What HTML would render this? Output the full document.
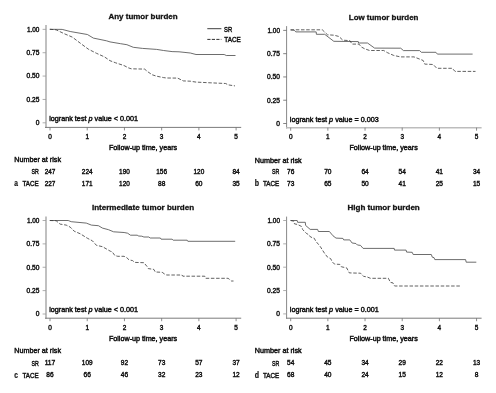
<!DOCTYPE html>
<html lang="en">
<head>
<meta charset="utf-8">
<title>Kaplan-Meier survival by tumor burden</title>
<style>
html,body{margin:0;padding:0;background:#fff;}
body{width:496px;height:393px;overflow:hidden;}
svg{display:block;font-family:'Liberation Sans', Arial, Helvetica, sans-serif;}
</style>
</head>
<body>
<svg width="496" height="393" viewBox="0 0 496 393" font-family="'Liberation Sans', Arial, Helvetica, sans-serif">
<rect width="496" height="393" fill="#fff"/>
<line x1="46.00" y1="25.10" x2="46.00" y2="127.88" stroke="#bdbdbd" stroke-width="1.9"/>
<line x1="45.05" y1="127.40" x2="241.20" y2="127.40" stroke="#747474" stroke-width="0.95"/>
<line x1="42.60" y1="29.35" x2="46.00" y2="29.35" stroke="#999" stroke-width="0.8"/>
<text x="26.90" y="31.75" font-size="7.4" textLength="12.50" lengthAdjust="spacingAndGlyphs" fill="#111" stroke="#111" stroke-width="0.45">1.00</text>
<line x1="42.60" y1="52.71" x2="46.00" y2="52.71" stroke="#999" stroke-width="0.8"/>
<text x="26.50" y="55.11" font-size="7.4" textLength="12.90" lengthAdjust="spacingAndGlyphs" fill="#111" stroke="#111" stroke-width="0.45">0.75</text>
<line x1="42.60" y1="76.07" x2="46.00" y2="76.07" stroke="#999" stroke-width="0.8"/>
<text x="26.50" y="78.47" font-size="7.4" textLength="12.90" lengthAdjust="spacingAndGlyphs" fill="#111" stroke="#111" stroke-width="0.45">0.50</text>
<line x1="42.60" y1="99.44" x2="46.00" y2="99.44" stroke="#999" stroke-width="0.8"/>
<text x="26.50" y="101.84" font-size="7.4" textLength="12.90" lengthAdjust="spacingAndGlyphs" fill="#111" stroke="#111" stroke-width="0.45">0.25</text>
<line x1="42.60" y1="122.80" x2="46.00" y2="122.80" stroke="#999" stroke-width="0.8"/>
<text x="35.70" y="125.20" font-size="7.4" textLength="3.70" lengthAdjust="spacingAndGlyphs" fill="#111" stroke="#111" stroke-width="0.45">0</text>
<line x1="50.00" y1="127.40" x2="50.00" y2="130.40" stroke="#707070" stroke-width="0.8"/>
<text x="48.20" y="139.10" font-size="7.4" textLength="3.60" lengthAdjust="spacingAndGlyphs" fill="#111" stroke="#111" stroke-width="0.45">0</text>
<line x1="87.22" y1="127.40" x2="87.22" y2="130.40" stroke="#707070" stroke-width="0.8"/>
<text x="85.42" y="139.10" font-size="7.4" textLength="3.60" lengthAdjust="spacingAndGlyphs" fill="#111" stroke="#111" stroke-width="0.45">1</text>
<line x1="124.44" y1="127.40" x2="124.44" y2="130.40" stroke="#707070" stroke-width="0.8"/>
<text x="122.64" y="139.10" font-size="7.4" textLength="3.60" lengthAdjust="spacingAndGlyphs" fill="#111" stroke="#111" stroke-width="0.45">2</text>
<line x1="161.66" y1="127.40" x2="161.66" y2="130.40" stroke="#707070" stroke-width="0.8"/>
<text x="159.86" y="139.10" font-size="7.4" textLength="3.60" lengthAdjust="spacingAndGlyphs" fill="#111" stroke="#111" stroke-width="0.45">3</text>
<line x1="198.88" y1="127.40" x2="198.88" y2="130.40" stroke="#707070" stroke-width="0.8"/>
<text x="197.08" y="139.10" font-size="7.4" textLength="3.60" lengthAdjust="spacingAndGlyphs" fill="#111" stroke="#111" stroke-width="0.45">4</text>
<line x1="236.10" y1="127.40" x2="236.10" y2="130.40" stroke="#707070" stroke-width="0.8"/>
<text x="234.30" y="139.10" font-size="7.4" textLength="3.60" lengthAdjust="spacingAndGlyphs" fill="#111" stroke="#111" stroke-width="0.45">5</text>
<text x="108.90" y="149.60" font-size="7.4" textLength="68.30" lengthAdjust="spacingAndGlyphs" fill="#111" stroke="#111" stroke-width="0.45">Follow-up time, years</text>
<text x="108.45" y="18.90" font-size="7.9" textLength="69.20" lengthAdjust="spacingAndGlyphs" fill="#111" stroke="#111" stroke-width="0.3" font-weight="bold">Any tumor burden</text>
<text x="49.20" y="121.00" font-size="7.4" textLength="88.9" lengthAdjust="spacingAndGlyphs" fill="#111" stroke="#111" stroke-width="0.45">logrank test <tspan font-style="italic">p</tspan> value &lt; 0.001</text>
<text x="14.20" y="161.90" font-size="7.4" textLength="46.80" lengthAdjust="spacingAndGlyphs" fill="#111" stroke="#111" stroke-width="0.45">Number at risk</text>
<text x="31.40" y="174.00" font-size="7.4" textLength="7.30" lengthAdjust="spacingAndGlyphs" fill="#111" stroke="#111" stroke-width="0.45">SR</text>
<text x="22.40" y="185.70" font-size="7.4" textLength="16.30" lengthAdjust="spacingAndGlyphs" fill="#111" stroke="#111" stroke-width="0.45">TACE</text>
<text x="14.20" y="185.90" font-size="8.3" textLength="3.70" lengthAdjust="spacingAndGlyphs" fill="#111" stroke="#111" stroke-width="0.2" font-weight="bold">a</text>
<text x="44.65" y="174.00" font-size="7.4" textLength="10.70" lengthAdjust="spacingAndGlyphs" fill="#111" stroke="#111" stroke-width="0.45">247</text>
<text x="44.65" y="185.70" font-size="7.4" textLength="10.70" lengthAdjust="spacingAndGlyphs" fill="#111" stroke="#111" stroke-width="0.45">227</text>
<text x="81.87" y="174.00" font-size="7.4" textLength="10.70" lengthAdjust="spacingAndGlyphs" fill="#111" stroke="#111" stroke-width="0.45">224</text>
<text x="81.87" y="185.70" font-size="7.4" textLength="10.70" lengthAdjust="spacingAndGlyphs" fill="#111" stroke="#111" stroke-width="0.45">171</text>
<text x="119.09" y="174.00" font-size="7.4" textLength="10.70" lengthAdjust="spacingAndGlyphs" fill="#111" stroke="#111" stroke-width="0.45">190</text>
<text x="119.09" y="185.70" font-size="7.4" textLength="10.70" lengthAdjust="spacingAndGlyphs" fill="#111" stroke="#111" stroke-width="0.45">120</text>
<text x="156.31" y="174.00" font-size="7.4" textLength="10.70" lengthAdjust="spacingAndGlyphs" fill="#111" stroke="#111" stroke-width="0.45">156</text>
<text x="158.01" y="185.70" font-size="7.4" textLength="7.30" lengthAdjust="spacingAndGlyphs" fill="#111" stroke="#111" stroke-width="0.45">88</text>
<text x="193.53" y="174.00" font-size="7.4" textLength="10.70" lengthAdjust="spacingAndGlyphs" fill="#111" stroke="#111" stroke-width="0.45">120</text>
<text x="195.23" y="185.70" font-size="7.4" textLength="7.30" lengthAdjust="spacingAndGlyphs" fill="#111" stroke="#111" stroke-width="0.45">60</text>
<text x="232.45" y="174.00" font-size="7.4" textLength="7.30" lengthAdjust="spacingAndGlyphs" fill="#111" stroke="#111" stroke-width="0.45">84</text>
<text x="232.45" y="185.70" font-size="7.4" textLength="7.30" lengthAdjust="spacingAndGlyphs" fill="#111" stroke="#111" stroke-width="0.45">35</text>
<path d="M49.8 29.3 L62.2 29.4 L70.2 31.5 L87.4 34.5 L93.4 38.1 L106.5 40.8 L110.0 41.9 L120.6 43.7 L126.9 44.7 L133.3 47.3 L142.5 48.4 L156.6 49.4 L163.6 50.5 L172.1 51.6 L179.0 51.8 L190.3 53.0 L196.0 54.5 L224.2 54.5 L226.3 55.5 L235.5 55.5" fill="none" stroke="#484848" stroke-width="0.8" stroke-linejoin="round"/>
<path d="M49.8 29.3 L56.1 29.8 L64.2 33.7 L72.3 37.1 L80.3 43.2 L88.4 49.2 L96.5 53.3 L104.5 56.9 L110.0 60.7 L115.6 62.8 L124.1 65.6 L128.3 67.8 L131.2 68.8 L144.6 69.1 L148.1 72.0 L152.3 74.8 L156.6 76.2 L163.6 77.6 L166.4 78.0 L177.6 78.1 L183.3 80.9 L190.3 81.2 L196.0 82.1 L210.1 82.8 L225.6 83.5 L228.4 84.9 L235.0 85.9" fill="none" stroke="#383838" stroke-width="0.8" stroke-linejoin="round" stroke-dasharray="3.5 1.7"/>
<line x1="286.60" y1="26.10" x2="286.60" y2="128.45" stroke="#888" stroke-width="1.0"/>
<line x1="286.10" y1="127.70" x2="481.60" y2="127.70" stroke="#bdbdbd" stroke-width="1.5"/>
<line x1="283.20" y1="30.40" x2="286.60" y2="30.40" stroke="#666" stroke-width="0.8"/>
<text x="267.50" y="32.80" font-size="7.4" textLength="12.50" lengthAdjust="spacingAndGlyphs" fill="#111" stroke="#111" stroke-width="0.45">1.00</text>
<line x1="283.20" y1="53.67" x2="286.60" y2="53.67" stroke="#666" stroke-width="0.8"/>
<text x="267.10" y="56.07" font-size="7.4" textLength="12.90" lengthAdjust="spacingAndGlyphs" fill="#111" stroke="#111" stroke-width="0.45">0.75</text>
<line x1="283.20" y1="76.95" x2="286.60" y2="76.95" stroke="#666" stroke-width="0.8"/>
<text x="267.10" y="79.35" font-size="7.4" textLength="12.90" lengthAdjust="spacingAndGlyphs" fill="#111" stroke="#111" stroke-width="0.45">0.50</text>
<line x1="283.20" y1="100.22" x2="286.60" y2="100.22" stroke="#666" stroke-width="0.8"/>
<text x="267.10" y="102.62" font-size="7.4" textLength="12.90" lengthAdjust="spacingAndGlyphs" fill="#111" stroke="#111" stroke-width="0.45">0.25</text>
<line x1="283.20" y1="123.50" x2="286.60" y2="123.50" stroke="#666" stroke-width="0.8"/>
<text x="276.30" y="125.90" font-size="7.4" textLength="3.70" lengthAdjust="spacingAndGlyphs" fill="#111" stroke="#111" stroke-width="0.45">0</text>
<line x1="290.70" y1="127.70" x2="290.70" y2="130.70" stroke="#707070" stroke-width="0.8"/>
<text x="288.90" y="139.30" font-size="7.4" textLength="3.60" lengthAdjust="spacingAndGlyphs" fill="#111" stroke="#111" stroke-width="0.45">0</text>
<line x1="327.87" y1="127.70" x2="327.87" y2="130.70" stroke="#707070" stroke-width="0.8"/>
<text x="326.07" y="139.30" font-size="7.4" textLength="3.60" lengthAdjust="spacingAndGlyphs" fill="#111" stroke="#111" stroke-width="0.45">1</text>
<line x1="365.04" y1="127.70" x2="365.04" y2="130.70" stroke="#707070" stroke-width="0.8"/>
<text x="363.24" y="139.30" font-size="7.4" textLength="3.60" lengthAdjust="spacingAndGlyphs" fill="#111" stroke="#111" stroke-width="0.45">2</text>
<line x1="402.21" y1="127.70" x2="402.21" y2="130.70" stroke="#707070" stroke-width="0.8"/>
<text x="400.41" y="139.30" font-size="7.4" textLength="3.60" lengthAdjust="spacingAndGlyphs" fill="#111" stroke="#111" stroke-width="0.45">3</text>
<line x1="439.38" y1="127.70" x2="439.38" y2="130.70" stroke="#707070" stroke-width="0.8"/>
<text x="437.58" y="139.30" font-size="7.4" textLength="3.60" lengthAdjust="spacingAndGlyphs" fill="#111" stroke="#111" stroke-width="0.45">4</text>
<line x1="476.55" y1="127.70" x2="476.55" y2="130.70" stroke="#707070" stroke-width="0.8"/>
<text x="474.75" y="139.30" font-size="7.4" textLength="3.60" lengthAdjust="spacingAndGlyphs" fill="#111" stroke="#111" stroke-width="0.45">5</text>
<text x="349.48" y="150.00" font-size="7.4" textLength="68.30" lengthAdjust="spacingAndGlyphs" fill="#111" stroke="#111" stroke-width="0.45">Follow-up time, years</text>
<text x="348.82" y="20.00" font-size="7.9" textLength="69.60" lengthAdjust="spacingAndGlyphs" fill="#111" stroke="#111" stroke-width="0.3" font-weight="bold">Low tumor burden</text>
<text x="289.80" y="121.60" font-size="7.4" textLength="88.9" lengthAdjust="spacingAndGlyphs" fill="#111" stroke="#111" stroke-width="0.45">logrank test <tspan font-style="italic">p</tspan> value = 0.003</text>
<text x="254.80" y="162.70" font-size="7.4" textLength="46.80" lengthAdjust="spacingAndGlyphs" fill="#111" stroke="#111" stroke-width="0.45">Number at risk</text>
<text x="272.00" y="174.00" font-size="7.4" textLength="7.30" lengthAdjust="spacingAndGlyphs" fill="#111" stroke="#111" stroke-width="0.45">SR</text>
<text x="263.00" y="185.90" font-size="7.4" textLength="16.30" lengthAdjust="spacingAndGlyphs" fill="#111" stroke="#111" stroke-width="0.45">TACE</text>
<text x="254.80" y="186.10" font-size="8.3" textLength="4.30" lengthAdjust="spacingAndGlyphs" fill="#111" stroke="#111" stroke-width="0.2" font-weight="bold">b</text>
<text x="287.05" y="174.00" font-size="7.4" textLength="7.30" lengthAdjust="spacingAndGlyphs" fill="#111" stroke="#111" stroke-width="0.45">76</text>
<text x="287.05" y="185.90" font-size="7.4" textLength="7.30" lengthAdjust="spacingAndGlyphs" fill="#111" stroke="#111" stroke-width="0.45">73</text>
<text x="324.22" y="174.00" font-size="7.4" textLength="7.30" lengthAdjust="spacingAndGlyphs" fill="#111" stroke="#111" stroke-width="0.45">70</text>
<text x="324.22" y="185.90" font-size="7.4" textLength="7.30" lengthAdjust="spacingAndGlyphs" fill="#111" stroke="#111" stroke-width="0.45">65</text>
<text x="361.39" y="174.00" font-size="7.4" textLength="7.30" lengthAdjust="spacingAndGlyphs" fill="#111" stroke="#111" stroke-width="0.45">64</text>
<text x="361.39" y="185.90" font-size="7.4" textLength="7.30" lengthAdjust="spacingAndGlyphs" fill="#111" stroke="#111" stroke-width="0.45">50</text>
<text x="398.56" y="174.00" font-size="7.4" textLength="7.30" lengthAdjust="spacingAndGlyphs" fill="#111" stroke="#111" stroke-width="0.45">54</text>
<text x="398.56" y="185.90" font-size="7.4" textLength="7.30" lengthAdjust="spacingAndGlyphs" fill="#111" stroke="#111" stroke-width="0.45">41</text>
<text x="435.73" y="174.00" font-size="7.4" textLength="7.30" lengthAdjust="spacingAndGlyphs" fill="#111" stroke="#111" stroke-width="0.45">41</text>
<text x="435.73" y="185.90" font-size="7.4" textLength="7.30" lengthAdjust="spacingAndGlyphs" fill="#111" stroke="#111" stroke-width="0.45">25</text>
<text x="472.90" y="174.00" font-size="7.4" textLength="7.30" lengthAdjust="spacingAndGlyphs" fill="#111" stroke="#111" stroke-width="0.45">34</text>
<text x="472.90" y="185.90" font-size="7.4" textLength="7.30" lengthAdjust="spacingAndGlyphs" fill="#111" stroke="#111" stroke-width="0.45">15</text>
<path d="M290.6 30.0 L294.2 30.2 L295.8 31.9 L316.2 31.9 L316.4 34.3 L324.7 34.3 L333.8 41.3 L358.3 41.6 L358.6 43.0 L367.5 43.0 L374.6 48.1 L400.7 48.2 L403.5 50.6 L419.6 50.6 L421.4 52.3 L435.9 52.3 L437.4 54.1 L472.6 54.1" fill="none" stroke="#484848" stroke-width="0.8" stroke-linejoin="round"/>
<path d="M290.6 29.8 L322.3 29.8 L327.5 34.8 L334.0 35.2 L339.0 36.5 L342.8 40.2 L349.9 40.6 L352.0 44.1 L359.0 44.1 L361.2 46.9 L364.7 48.8 L369.6 50.5 L383.7 50.5 L387.3 52.6 L393.6 55.4 L400.5 56.9 L414.0 56.9 L423.2 60.5 L424.7 64.1 L433.2 64.5 L436.8 68.3 L452.3 68.3 L455.0 71.4 L475.5 71.4" fill="none" stroke="#383838" stroke-width="0.8" stroke-linejoin="round" stroke-dasharray="3.5 1.7"/>
<line x1="46.00" y1="216.60" x2="46.00" y2="318.68" stroke="#bdbdbd" stroke-width="1.9"/>
<line x1="45.05" y1="318.20" x2="241.20" y2="318.20" stroke="#747474" stroke-width="0.95"/>
<line x1="42.60" y1="220.50" x2="46.00" y2="220.50" stroke="#999" stroke-width="0.8"/>
<text x="26.90" y="222.90" font-size="7.4" textLength="12.50" lengthAdjust="spacingAndGlyphs" fill="#111" stroke="#111" stroke-width="0.45">1.00</text>
<line x1="42.60" y1="243.88" x2="46.00" y2="243.88" stroke="#999" stroke-width="0.8"/>
<text x="26.50" y="246.28" font-size="7.4" textLength="12.90" lengthAdjust="spacingAndGlyphs" fill="#111" stroke="#111" stroke-width="0.45">0.75</text>
<line x1="42.60" y1="267.25" x2="46.00" y2="267.25" stroke="#999" stroke-width="0.8"/>
<text x="26.50" y="269.65" font-size="7.4" textLength="12.90" lengthAdjust="spacingAndGlyphs" fill="#111" stroke="#111" stroke-width="0.45">0.50</text>
<line x1="42.60" y1="290.62" x2="46.00" y2="290.62" stroke="#999" stroke-width="0.8"/>
<text x="26.50" y="293.02" font-size="7.4" textLength="12.90" lengthAdjust="spacingAndGlyphs" fill="#111" stroke="#111" stroke-width="0.45">0.25</text>
<line x1="42.60" y1="314.00" x2="46.00" y2="314.00" stroke="#999" stroke-width="0.8"/>
<text x="35.70" y="316.40" font-size="7.4" textLength="3.70" lengthAdjust="spacingAndGlyphs" fill="#111" stroke="#111" stroke-width="0.45">0</text>
<line x1="50.00" y1="318.20" x2="50.00" y2="321.20" stroke="#707070" stroke-width="0.8"/>
<text x="48.20" y="329.90" font-size="7.4" textLength="3.60" lengthAdjust="spacingAndGlyphs" fill="#111" stroke="#111" stroke-width="0.45">0</text>
<line x1="87.22" y1="318.20" x2="87.22" y2="321.20" stroke="#707070" stroke-width="0.8"/>
<text x="85.42" y="329.90" font-size="7.4" textLength="3.60" lengthAdjust="spacingAndGlyphs" fill="#111" stroke="#111" stroke-width="0.45">1</text>
<line x1="124.44" y1="318.20" x2="124.44" y2="321.20" stroke="#707070" stroke-width="0.8"/>
<text x="122.64" y="329.90" font-size="7.4" textLength="3.60" lengthAdjust="spacingAndGlyphs" fill="#111" stroke="#111" stroke-width="0.45">2</text>
<line x1="161.66" y1="318.20" x2="161.66" y2="321.20" stroke="#707070" stroke-width="0.8"/>
<text x="159.86" y="329.90" font-size="7.4" textLength="3.60" lengthAdjust="spacingAndGlyphs" fill="#111" stroke="#111" stroke-width="0.45">3</text>
<line x1="198.88" y1="318.20" x2="198.88" y2="321.20" stroke="#707070" stroke-width="0.8"/>
<text x="197.08" y="329.90" font-size="7.4" textLength="3.60" lengthAdjust="spacingAndGlyphs" fill="#111" stroke="#111" stroke-width="0.45">4</text>
<line x1="236.10" y1="318.20" x2="236.10" y2="321.20" stroke="#707070" stroke-width="0.8"/>
<text x="234.30" y="329.90" font-size="7.4" textLength="3.60" lengthAdjust="spacingAndGlyphs" fill="#111" stroke="#111" stroke-width="0.45">5</text>
<text x="108.90" y="340.50" font-size="7.4" textLength="68.30" lengthAdjust="spacingAndGlyphs" fill="#111" stroke="#111" stroke-width="0.45">Follow-up time, years</text>
<text x="91.95" y="209.90" font-size="7.9" textLength="102.20" lengthAdjust="spacingAndGlyphs" fill="#111" stroke="#111" stroke-width="0.3" font-weight="bold">Intermediate tumor burden</text>
<text x="49.20" y="311.60" font-size="7.4" textLength="88.9" lengthAdjust="spacingAndGlyphs" fill="#111" stroke="#111" stroke-width="0.45">logrank test <tspan font-style="italic">p</tspan> value &lt; 0.001</text>
<text x="14.20" y="352.90" font-size="7.4" textLength="46.80" lengthAdjust="spacingAndGlyphs" fill="#111" stroke="#111" stroke-width="0.45">Number at risk</text>
<text x="31.40" y="366.40" font-size="7.4" textLength="7.30" lengthAdjust="spacingAndGlyphs" fill="#111" stroke="#111" stroke-width="0.45">SR</text>
<text x="22.40" y="377.50" font-size="7.4" textLength="16.30" lengthAdjust="spacingAndGlyphs" fill="#111" stroke="#111" stroke-width="0.45">TACE</text>
<text x="14.20" y="377.70" font-size="8.3" textLength="3.70" lengthAdjust="spacingAndGlyphs" fill="#111" stroke="#111" stroke-width="0.2" font-weight="bold">c</text>
<text x="44.65" y="364.90" font-size="7.4" textLength="10.70" lengthAdjust="spacingAndGlyphs" fill="#111" stroke="#111" stroke-width="0.45">117</text>
<text x="46.35" y="376.60" font-size="7.4" textLength="7.30" lengthAdjust="spacingAndGlyphs" fill="#111" stroke="#111" stroke-width="0.45">86</text>
<text x="81.87" y="364.90" font-size="7.4" textLength="10.70" lengthAdjust="spacingAndGlyphs" fill="#111" stroke="#111" stroke-width="0.45">109</text>
<text x="83.57" y="376.60" font-size="7.4" textLength="7.30" lengthAdjust="spacingAndGlyphs" fill="#111" stroke="#111" stroke-width="0.45">66</text>
<text x="120.79" y="364.90" font-size="7.4" textLength="7.30" lengthAdjust="spacingAndGlyphs" fill="#111" stroke="#111" stroke-width="0.45">92</text>
<text x="120.79" y="376.60" font-size="7.4" textLength="7.30" lengthAdjust="spacingAndGlyphs" fill="#111" stroke="#111" stroke-width="0.45">46</text>
<text x="158.01" y="364.90" font-size="7.4" textLength="7.30" lengthAdjust="spacingAndGlyphs" fill="#111" stroke="#111" stroke-width="0.45">73</text>
<text x="158.01" y="376.60" font-size="7.4" textLength="7.30" lengthAdjust="spacingAndGlyphs" fill="#111" stroke="#111" stroke-width="0.45">32</text>
<text x="195.23" y="364.90" font-size="7.4" textLength="7.30" lengthAdjust="spacingAndGlyphs" fill="#111" stroke="#111" stroke-width="0.45">57</text>
<text x="195.23" y="376.60" font-size="7.4" textLength="7.30" lengthAdjust="spacingAndGlyphs" fill="#111" stroke="#111" stroke-width="0.45">23</text>
<text x="232.45" y="364.90" font-size="7.4" textLength="7.30" lengthAdjust="spacingAndGlyphs" fill="#111" stroke="#111" stroke-width="0.45">37</text>
<text x="232.45" y="376.60" font-size="7.4" textLength="7.30" lengthAdjust="spacingAndGlyphs" fill="#111" stroke="#111" stroke-width="0.45">12</text>
<path d="M49.8 220.5 L68.2 220.5 L71.2 221.7 L86.3 223.1 L91.4 225.1 L98.4 225.7 L102.5 228.1 L108.5 229.7 L113.6 231.8 L124.1 232.5 L127.6 233.2 L130.5 235.2 L137.5 235.2 L138.2 236.0 L141.8 236.2 L143.9 237.0 L148.8 237.0 L150.2 238.0 L160.4 238.0 L161.1 239.2 L172.1 239.2 L173.2 240.2 L187.2 240.2 L187.8 241.3 L235.2 241.3" fill="none" stroke="#484848" stroke-width="0.8" stroke-linejoin="round"/>
<path d="M49.8 220.5 L56.1 220.7 L60.1 224.1 L66.2 225.1 L70.2 227.1 L74.2 231.2 L80.3 233.8 L87.3 238.2 L92.4 240.8 L96.4 245.3 L102.5 246.7 L110.5 251.3 L112.1 251.7 L114.9 255.6 L117.8 256.3 L124.1 256.3 L126.9 257.8 L129.1 259.9 L132.6 260.6 L134.7 262.4 L143.9 262.7 L147.4 266.9 L148.3 268.6 L153.8 269.4 L155.3 272.0 L162.2 272.3 L165.2 274.5 L166.8 275.0 L182.0 275.0 L182.8 276.2 L204.8 276.2 L205.6 278.3 L228.1 278.3 L231.5 281.0 L233.5 281.0" fill="none" stroke="#383838" stroke-width="0.8" stroke-linejoin="round" stroke-dasharray="3.5 1.7"/>
<line x1="286.60" y1="216.60" x2="286.60" y2="318.70" stroke="#888" stroke-width="1.0"/>
<line x1="286.10" y1="318.20" x2="481.60" y2="318.20" stroke="#7a7a7a" stroke-width="1.0"/>
<line x1="283.20" y1="220.50" x2="286.60" y2="220.50" stroke="#999" stroke-width="0.8"/>
<text x="267.50" y="222.90" font-size="7.4" textLength="12.50" lengthAdjust="spacingAndGlyphs" fill="#111" stroke="#111" stroke-width="0.45">1.00</text>
<line x1="283.20" y1="243.85" x2="286.60" y2="243.85" stroke="#999" stroke-width="0.8"/>
<text x="267.10" y="246.25" font-size="7.4" textLength="12.90" lengthAdjust="spacingAndGlyphs" fill="#111" stroke="#111" stroke-width="0.45">0.75</text>
<line x1="283.20" y1="267.20" x2="286.60" y2="267.20" stroke="#999" stroke-width="0.8"/>
<text x="267.10" y="269.60" font-size="7.4" textLength="12.90" lengthAdjust="spacingAndGlyphs" fill="#111" stroke="#111" stroke-width="0.45">0.50</text>
<line x1="283.20" y1="290.55" x2="286.60" y2="290.55" stroke="#999" stroke-width="0.8"/>
<text x="267.10" y="292.95" font-size="7.4" textLength="12.90" lengthAdjust="spacingAndGlyphs" fill="#111" stroke="#111" stroke-width="0.45">0.25</text>
<line x1="283.20" y1="313.90" x2="286.60" y2="313.90" stroke="#999" stroke-width="0.8"/>
<text x="276.30" y="316.30" font-size="7.4" textLength="3.70" lengthAdjust="spacingAndGlyphs" fill="#111" stroke="#111" stroke-width="0.45">0</text>
<line x1="290.70" y1="318.20" x2="290.70" y2="321.20" stroke="#707070" stroke-width="0.8"/>
<text x="288.90" y="329.90" font-size="7.4" textLength="3.60" lengthAdjust="spacingAndGlyphs" fill="#111" stroke="#111" stroke-width="0.45">0</text>
<line x1="327.87" y1="318.20" x2="327.87" y2="321.20" stroke="#707070" stroke-width="0.8"/>
<text x="326.07" y="329.90" font-size="7.4" textLength="3.60" lengthAdjust="spacingAndGlyphs" fill="#111" stroke="#111" stroke-width="0.45">1</text>
<line x1="365.04" y1="318.20" x2="365.04" y2="321.20" stroke="#707070" stroke-width="0.8"/>
<text x="363.24" y="329.90" font-size="7.4" textLength="3.60" lengthAdjust="spacingAndGlyphs" fill="#111" stroke="#111" stroke-width="0.45">2</text>
<line x1="402.21" y1="318.20" x2="402.21" y2="321.20" stroke="#707070" stroke-width="0.8"/>
<text x="400.41" y="329.90" font-size="7.4" textLength="3.60" lengthAdjust="spacingAndGlyphs" fill="#111" stroke="#111" stroke-width="0.45">3</text>
<line x1="439.38" y1="318.20" x2="439.38" y2="321.20" stroke="#707070" stroke-width="0.8"/>
<text x="437.58" y="329.90" font-size="7.4" textLength="3.60" lengthAdjust="spacingAndGlyphs" fill="#111" stroke="#111" stroke-width="0.45">4</text>
<line x1="476.55" y1="318.20" x2="476.55" y2="321.20" stroke="#707070" stroke-width="0.8"/>
<text x="474.75" y="329.90" font-size="7.4" textLength="3.60" lengthAdjust="spacingAndGlyphs" fill="#111" stroke="#111" stroke-width="0.45">5</text>
<text x="349.48" y="340.50" font-size="7.4" textLength="68.30" lengthAdjust="spacingAndGlyphs" fill="#111" stroke="#111" stroke-width="0.45">Follow-up time, years</text>
<text x="347.48" y="209.60" font-size="7.9" textLength="72.30" lengthAdjust="spacingAndGlyphs" fill="#111" stroke="#111" stroke-width="0.3" font-weight="bold">High tumor burden</text>
<text x="289.80" y="311.60" font-size="7.4" textLength="88.9" lengthAdjust="spacingAndGlyphs" fill="#111" stroke="#111" stroke-width="0.45">logrank test <tspan font-style="italic">p</tspan> value = 0.001</text>
<text x="254.80" y="352.90" font-size="7.4" textLength="46.80" lengthAdjust="spacingAndGlyphs" fill="#111" stroke="#111" stroke-width="0.45">Number at risk</text>
<text x="272.00" y="366.40" font-size="7.4" textLength="7.30" lengthAdjust="spacingAndGlyphs" fill="#111" stroke="#111" stroke-width="0.45">SR</text>
<text x="263.00" y="377.50" font-size="7.4" textLength="16.30" lengthAdjust="spacingAndGlyphs" fill="#111" stroke="#111" stroke-width="0.45">TACE</text>
<text x="254.80" y="377.70" font-size="8.3" textLength="4.30" lengthAdjust="spacingAndGlyphs" fill="#111" stroke="#111" stroke-width="0.2" font-weight="bold">d</text>
<text x="287.05" y="365.20" font-size="7.4" textLength="7.30" lengthAdjust="spacingAndGlyphs" fill="#111" stroke="#111" stroke-width="0.45">54</text>
<text x="287.05" y="376.90" font-size="7.4" textLength="7.30" lengthAdjust="spacingAndGlyphs" fill="#111" stroke="#111" stroke-width="0.45">68</text>
<text x="324.22" y="365.20" font-size="7.4" textLength="7.30" lengthAdjust="spacingAndGlyphs" fill="#111" stroke="#111" stroke-width="0.45">45</text>
<text x="324.22" y="376.90" font-size="7.4" textLength="7.30" lengthAdjust="spacingAndGlyphs" fill="#111" stroke="#111" stroke-width="0.45">40</text>
<text x="361.39" y="365.20" font-size="7.4" textLength="7.30" lengthAdjust="spacingAndGlyphs" fill="#111" stroke="#111" stroke-width="0.45">34</text>
<text x="361.39" y="376.90" font-size="7.4" textLength="7.30" lengthAdjust="spacingAndGlyphs" fill="#111" stroke="#111" stroke-width="0.45">24</text>
<text x="398.56" y="365.20" font-size="7.4" textLength="7.30" lengthAdjust="spacingAndGlyphs" fill="#111" stroke="#111" stroke-width="0.45">29</text>
<text x="398.56" y="376.90" font-size="7.4" textLength="7.30" lengthAdjust="spacingAndGlyphs" fill="#111" stroke="#111" stroke-width="0.45">15</text>
<text x="435.73" y="365.20" font-size="7.4" textLength="7.30" lengthAdjust="spacingAndGlyphs" fill="#111" stroke="#111" stroke-width="0.45">22</text>
<text x="435.73" y="376.90" font-size="7.4" textLength="7.30" lengthAdjust="spacingAndGlyphs" fill="#111" stroke="#111" stroke-width="0.45">12</text>
<text x="472.90" y="365.20" font-size="7.4" textLength="7.30" lengthAdjust="spacingAndGlyphs" fill="#111" stroke="#111" stroke-width="0.45">13</text>
<text x="474.70" y="376.90" font-size="7.4" textLength="3.70" lengthAdjust="spacingAndGlyphs" fill="#111" stroke="#111" stroke-width="0.45">8</text>
<path d="M290.6 220.5 L297.2 220.5 L297.6 222.3 L305.3 222.3 L305.6 225.4 L310.2 229.4 L317.6 229.4 L318.4 231.5 L329.4 231.5 L333.0 235.8 L336.0 238.1 L342.9 238.4 L343.7 239.9 L349.8 239.9 L352.1 243.0 L355.9 243.5 L357.4 245.0 L360.5 245.4 L363.1 248.4 L394.2 248.4 L394.5 250.1 L406.1 250.1 L406.6 252.1 L412.2 252.3 L413.2 254.5 L431.3 254.5 L432.3 257.2 L434.0 257.6 L434.8 259.6 L465.6 259.6 L466.2 262.2 L476.3 262.2" fill="none" stroke="#484848" stroke-width="0.8" stroke-linejoin="round"/>
<path d="M290.6 220.5 L293.8 221.2 L294.5 223.9 L297.4 224.4 L301.6 226.5 L302.7 229.6 L306.3 233.3 L309.0 234.9 L310.5 237.0 L314.2 238.2 L315.8 241.2 L318.4 244.3 L320.5 246.9 L322.6 250.3 L324.6 253.4 L327.6 257.2 L330.7 258.7 L332.2 261.8 L334.5 264.1 L339.8 264.4 L341.4 266.8 L346.7 267.9 L349.3 272.9 L360.5 273.2 L363.5 276.3 L367.3 277.0 L370.4 278.3 L388.4 278.3 L390.4 282.4 L392.8 282.8 L394.6 286.0 L460.0 286.0" fill="none" stroke="#383838" stroke-width="0.8" stroke-linejoin="round" stroke-dasharray="3.5 1.7"/>
<line x1="207.30" y1="28.70" x2="221.40" y2="28.70" stroke="#404040" stroke-width="1.0"/>
<line x1="207.30" y1="39.40" x2="221.40" y2="39.40" stroke="#303030" stroke-width="1.0" stroke-dasharray="3.2 1.3"/>
<text x="224.10" y="31.70" font-size="7.4" textLength="8.10" lengthAdjust="spacingAndGlyphs" fill="#111" stroke="#111" stroke-width="0.45">SR</text>
<text x="224.30" y="42.00" font-size="7.4" textLength="16.60" lengthAdjust="spacingAndGlyphs" fill="#111" stroke="#111" stroke-width="0.45">TACE</text>
</svg>
</body>
</html>
